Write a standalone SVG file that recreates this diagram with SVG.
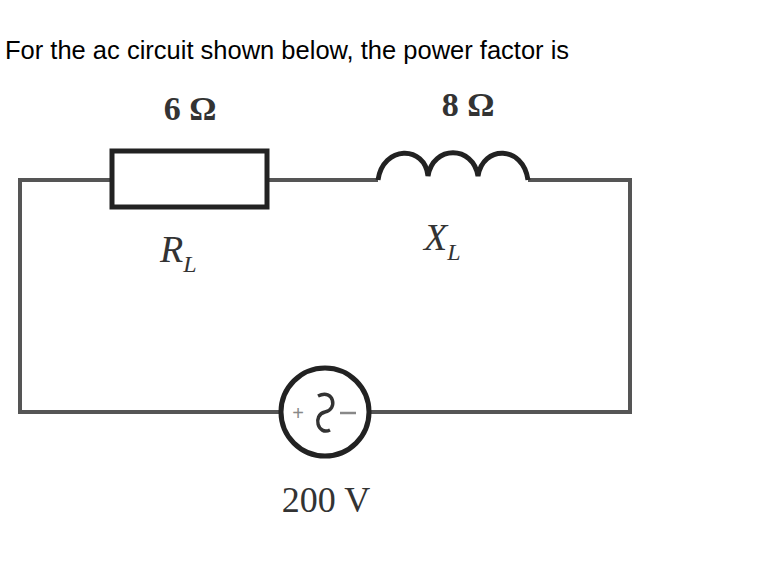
<svg xmlns="http://www.w3.org/2000/svg" width="758" height="572" viewBox="0 0 758 572">
<style>
.w{stroke:#555;stroke-width:4;fill:none}
.k{stroke:#222;stroke-width:5;fill:none}
.t{font-family:"Liberation Serif",serif;fill:#333}
</style>
<rect width="758" height="572" fill="#fff"/>
<text x="5" y="59" font-family="Liberation Sans,Arial,sans-serif" font-size="25.5" fill="#000">For the ac circuit shown below, the power factor is</text>
<g id="connectors">
<polyline class="w" points="112,180 20,180 20,412 281,412"/>
<line class="w" x1="267" y1="180" x2="378" y2="180"/>
<polyline class="w" points="528,180 630,180 630,412 369,412"/>
</g>
<g id="resistor">
<rect class="k" x="112" y="151" width="155" height="56"/>
<text class="t" x="190" y="120" font-size="34" text-anchor="middle" font-weight="bold">6 Ω</text>
<text class="t" x="160" y="262" font-size="38" font-style="italic">R<tspan font-size="24" dy="10">L</tspan></text>
</g>
<g id="inductor">
<path class="k" d="M378,180 C383,145 425,145 428,176 C433,145 473,145 478,176 C483,145 523,145 528,180"/>
<text class="t" x="468" y="116" font-size="34" text-anchor="middle" font-weight="bold">8 Ω</text>
<text class="t" x="424" y="250" font-size="38" font-style="italic">X<tspan font-size="24" dy="10">L</tspan></text>
</g>
<g id="source">
<circle class="k" cx="325" cy="412" r="44"/>
<path d="M318,396 C334,388 338,410 325,412 C312,415 318,436 330,430" stroke="#333" stroke-width="3.5" fill="none"/>
<text x="298" y="420" font-family="Liberation Sans,sans-serif" font-size="20" fill="#888" text-anchor="middle">+</text>
<line x1="340" y1="413" x2="356" y2="413" stroke="#888" stroke-width="2.5"/>
<text class="t" x="326" y="512" font-size="36" text-anchor="middle">200 V</text>
</g>
</svg>
